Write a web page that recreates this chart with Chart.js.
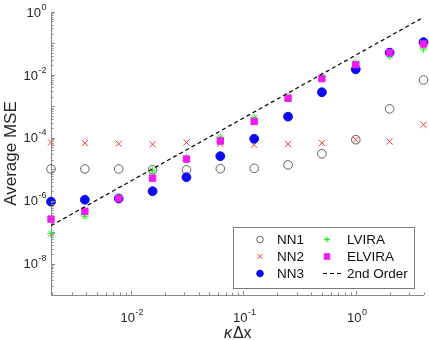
<!DOCTYPE html>
<html>
<head>
<meta charset="utf-8">
<script src="https://cdn.jsdelivr.net/npm/chart.js@4.4.1/dist/chart.umd.min.js"></script>
<style>
    html, body { margin: 0; padding: 0; background: #fff; }
    canvas { display: block; }
</style>
</head>
<body>
<canvas id="mseChart" width="429" height="340"></canvas>
<script>
// kappa * dx for each refinement level
const kappaDx = [0.001953125, 0.00390625, 0.0078125, 0.015625, 0.03125, 0.0625, 0.125, 0.25, 0.5, 1, 2, 4];

// average MSE per method
const nn1 = [1.02e-5, 1.02e-5, 1.02e-5, 9.6e-6, 9.6e-6, 1.04e-5, 1.07e-5, 1.37e-5, 3.1e-5, 8.7e-5, 8.3e-4, 6.9e-3];
const nn2 = [7.1e-5, 6.8e-5, 6.5e-5, 6.2e-5, 7.1e-5, 6.5e-5, 6.0e-5, 6.3e-5, 6.8e-5, 8.7e-5, 7.6e-5, 2.6e-4];
const nn3 = [9.3e-7, 1.07e-6, 1.17e-6, 2.0e-6, 5.6e-6, 2.6e-5, 9.3e-5, 4.7e-4, 2.8e-3, 1.5e-2, 5.1e-2, 0.11];
const lvira = [8.9e-8, 3.2e-7, 1.3e-6, 8.9e-6, 2.3e-5, 1.05e-4, 4.3e-4, 2.0e-3, 8.9e-3, 2.4e-2, 4.0e-2, 6.7e-2];
const elvira = [2.6e-7, 4.6e-7, 1.17e-6, 5.2e-6, 2.1e-5, 7.9e-5, 3.3e-4, 1.8e-3, 7.6e-3, 2.1e-2, 5.1e-2, 9.6e-2];

// reference slope line, end points only
const orderX = [0.001953125, 4];
const orderY = [1.6e-7, 0.68];

// tick labels (exponents of 10)
const xLabelExp = [-2, -1, 0];
const yLabelExp = [0, -2, -4, -6, -8];

const AXIS_GREY = '#8a8a8a';
const TEXT = '#262626';
const FONT = '"Liberation Sans", Arial, sans-serif';

const points = (xs, ys) => xs.map((x, i) => ({ x: x, y: ys[i] }));

const series = [
    { label: 'NN1', data: points(kappaDx, nn1), pointStyle: 'circle', pointRadius: 4.3,
      borderColor: '#606060', backgroundColor: 'rgba(0,0,0,0)', pointBorderWidth: 1, order: 6 },
    { label: 'NN2', data: points(kappaDx, nn2), pointStyle: 'crossRot', pointRadius: 4.4,
      borderColor: '#e5404a', backgroundColor: '#e5404a', pointBorderWidth: 1, order: 5 },
    { label: 'NN3', data: points(kappaDx, nn3), pointStyle: 'circle', pointRadius: 4.4,
      borderColor: '#0b0bee', backgroundColor: '#0b0bee', pointBorderWidth: 1, order: 4 },
    { label: 'LVIRA', data: points(kappaDx, lvira), pointStyle: 'star', pointRadius: 4,
      borderColor: '#36e636', backgroundColor: '#36e636', pointBorderWidth: 1, order: 3 },
    { label: 'ELVIRA', data: points(kappaDx, elvira), pointStyle: 'rect', pointRadius: 4.5,
      borderColor: '#f01cf0', backgroundColor: '#f01cf0', pointBorderWidth: 1, order: 2 },
    { label: '2nd Order', data: points(orderX, orderY), showLine: true, pointRadius: 0,
      borderColor: '#000', borderWidth: 1.2, borderDash: [4, 3], order: 1 }
];
series.forEach(s => { s.clip = false; if (!s.showLine) s.showLine = false; });

// draws "10" with a raised exponent
function drawPow(ctx, exp, x, baseline, align) {
    ctx.font = '13px ' + FONT;
    const wBase = ctx.measureText('10').width;
    ctx.font = '9px ' + FONT;
    const expText = String(exp);
    const wExp = ctx.measureText(expText).width;
    const total = wBase + wExp;
    let x0 = align === 'right' ? x - total : x - total / 2;
    ctx.textAlign = 'left';
    ctx.textBaseline = 'alphabetic';
    ctx.font = '13px ' + FONT;
    ctx.fillText('10', x0, baseline);
    ctx.font = '9px ' + FONT;
    ctx.fillText(expText, x0 + wBase + 0.5, baseline - 7);
}

function drawMarker(ctx, style, x, y, r) {
    ctx.beginPath();
    if (style === 'circle') {
        ctx.arc(x, y, r, 0, Math.PI * 2);
    } else if (style === 'rect') {
        ctx.rect(x - r, y - r, r * 2, r * 2);
    } else if (style === 'crossRot') {
        ctx.moveTo(x - r, y - r); ctx.lineTo(x + r, y + r);
        ctx.moveTo(x - r, y + r); ctx.lineTo(x + r, y - r);
    } else if (style === 'star') {
        const d = r * Math.SQRT1_2;
        ctx.moveTo(x - r, y); ctx.lineTo(x + r, y);
        ctx.moveTo(x, y - r); ctx.lineTo(x, y + r);
        ctx.moveTo(x - d, y - d); ctx.lineTo(x + d, y + d);
        ctx.moveTo(x - d, y + d); ctx.lineTo(x + d, y - d);
    }
}

const axisDecor = {
    id: 'axisDecor',
    afterDraw(chart) {
        const { ctx, chartArea: a, scales: { x, y } } = chart;
        ctx.save();

        // inward ticks, longer at each decade
        ctx.strokeStyle = AXIS_GREY;
        ctx.lineWidth = 1;
        ctx.beginPath();
        for (let d = -3; d <= 0; d++) {
            for (let m = 1; m <= 9; m++) {
                const v = m * Math.pow(10, d);
                if (v < x.min || v > x.max) continue;
                const px = Math.round(x.getPixelForValue(v)) + 0.5;
                const len = m === 1 ? 4 : 2.5;
                ctx.moveTo(px, a.bottom);
                ctx.lineTo(px, a.bottom - len);
            }
        }
        for (let d = -9; d <= 0; d++) {
            for (let m = 1; m <= 9; m++) {
                const v = m * Math.pow(10, d);
                if (v < y.min * 0.999 || v > y.max * 1.001) continue;
                const py = Math.round(y.getPixelForValue(v)) + 0.5;
                const len = m === 1 ? 4 : 2.5;
                ctx.moveTo(a.left, py);
                ctx.lineTo(a.left + len, py);
            }
        }
        ctx.stroke();

        // tick labels
        ctx.fillStyle = TEXT;
        xLabelExp.forEach(e => {
            drawPow(ctx, e, x.getPixelForValue(Math.pow(10, e)) + 1, 322, 'center');
        });
        yLabelExp.forEach(e => {
            drawPow(ctx, e, a.left - 5, y.getPixelForValue(Math.pow(10, e)) + 4.7, 'right');
        });

        // axis titles
        ctx.save();
        ctx.translate(11, (a.top + a.bottom) / 2);
        ctx.rotate(-Math.PI / 2);
        ctx.textAlign = 'center';
        ctx.textBaseline = 'middle';
        ctx.font = '17px ' + FONT;
        ctx.fillText('Average MSE', 0, 0);
        ctx.restore();

        ctx.textBaseline = 'alphabetic';
        ctx.textAlign = 'left';
        ctx.font = 'italic 16px ' + FONT;
        const wK = ctx.measureText('\u03BA').width;
        ctx.font = '16px ' + FONT;
        const wRest = ctx.measureText('\u0394x').width;
        const xStart = (a.left + a.right) / 2 - (wK + wRest) / 2;
        ctx.font = 'italic 16px ' + FONT;
        ctx.fillText('\u03BA', xStart, 338);
        ctx.font = '16px ' + FONT;
        ctx.fillText('\u0394x', xStart + wK + 1, 338);

        // legend box, two columns
        const box = { l: 233.5, t: 227.5, r: 414.5, b: 288.5 };
        ctx.fillStyle = '#fff';
        ctx.fillRect(box.l, box.t, box.r - box.l, box.b - box.t);
        ctx.strokeStyle = '#7a7a7a';
        ctx.lineWidth = 1;
        ctx.strokeRect(box.l, box.t, box.r - box.l, box.b - box.t);

        const rows = [239.5, 256.5, 273.5];
        const cells = [
            { ds: 0, mx: 260, tx: 277, row: 0, r: 3.3 },
            { ds: 1, mx: 260, tx: 277, row: 1, r: 2.6 },
            { ds: 2, mx: 260, tx: 277, row: 2, r: 3.3 },
            { ds: 3, mx: 327, tx: 347, row: 0, r: 3 },
            { ds: 4, mx: 327, tx: 347, row: 1, r: 2.8 },
            { ds: 5, mx: 333, tx: 347, row: 2 }
        ];
        cells.forEach(c => {
            const s = series[c.ds];
            const cy = rows[c.row];
            ctx.save();
            if (s.showLine) {
                ctx.strokeStyle = s.borderColor;
                ctx.lineWidth = s.borderWidth;
                ctx.setLineDash(s.borderDash);
                ctx.beginPath();
                ctx.moveTo(323, cy);
                ctx.lineTo(344, cy);
                ctx.stroke();
            } else {
                ctx.strokeStyle = s.borderColor;
                ctx.fillStyle = s.backgroundColor;
                ctx.lineWidth = 1;
                drawMarker(ctx, s.pointStyle, c.mx, cy, c.r);
                if (s.pointStyle === 'circle' || s.pointStyle === 'rect') ctx.fill();
                ctx.stroke();
            }
            ctx.restore();
            ctx.fillStyle = '#111';
            ctx.font = '13.5px ' + FONT;
            ctx.textAlign = 'left';
            ctx.textBaseline = 'middle';
            ctx.fillText(s.label, c.tx, cy + 0.5);
        });

        ctx.restore();
    }
};

new Chart(document.getElementById('mseChart'), {
    type: 'scatter',
    data: { datasets: series },
    options: {
        responsive: false,
        animation: false,
        events: [],
        layout: { padding: { top: 12, right: 5, bottom: 0, left: 0 } },
        plugins: {
            legend: { display: false },
            tooltip: { enabled: false }
        },
        scales: {
            x: {
                type: 'logarithmic',
                min: kappaDx[0],
                max: kappaDx[kappaDx.length - 1],
                grid: { display: false },
                ticks: { display: false },
                border: { display: true, color: AXIS_GREY, width: 1 },
                afterFit: s => { s.height = 45; }
            },
            y: {
                type: 'logarithmic',
                min: 1e-9,
                max: 1,
                grid: { display: false },
                ticks: { display: false },
                border: { display: true, color: AXIS_GREY, width: 1 },
                afterFit: s => { s.width = 51; }
            }
        }
    },
    plugins: [axisDecor]
});
</script>
</body>
</html>
